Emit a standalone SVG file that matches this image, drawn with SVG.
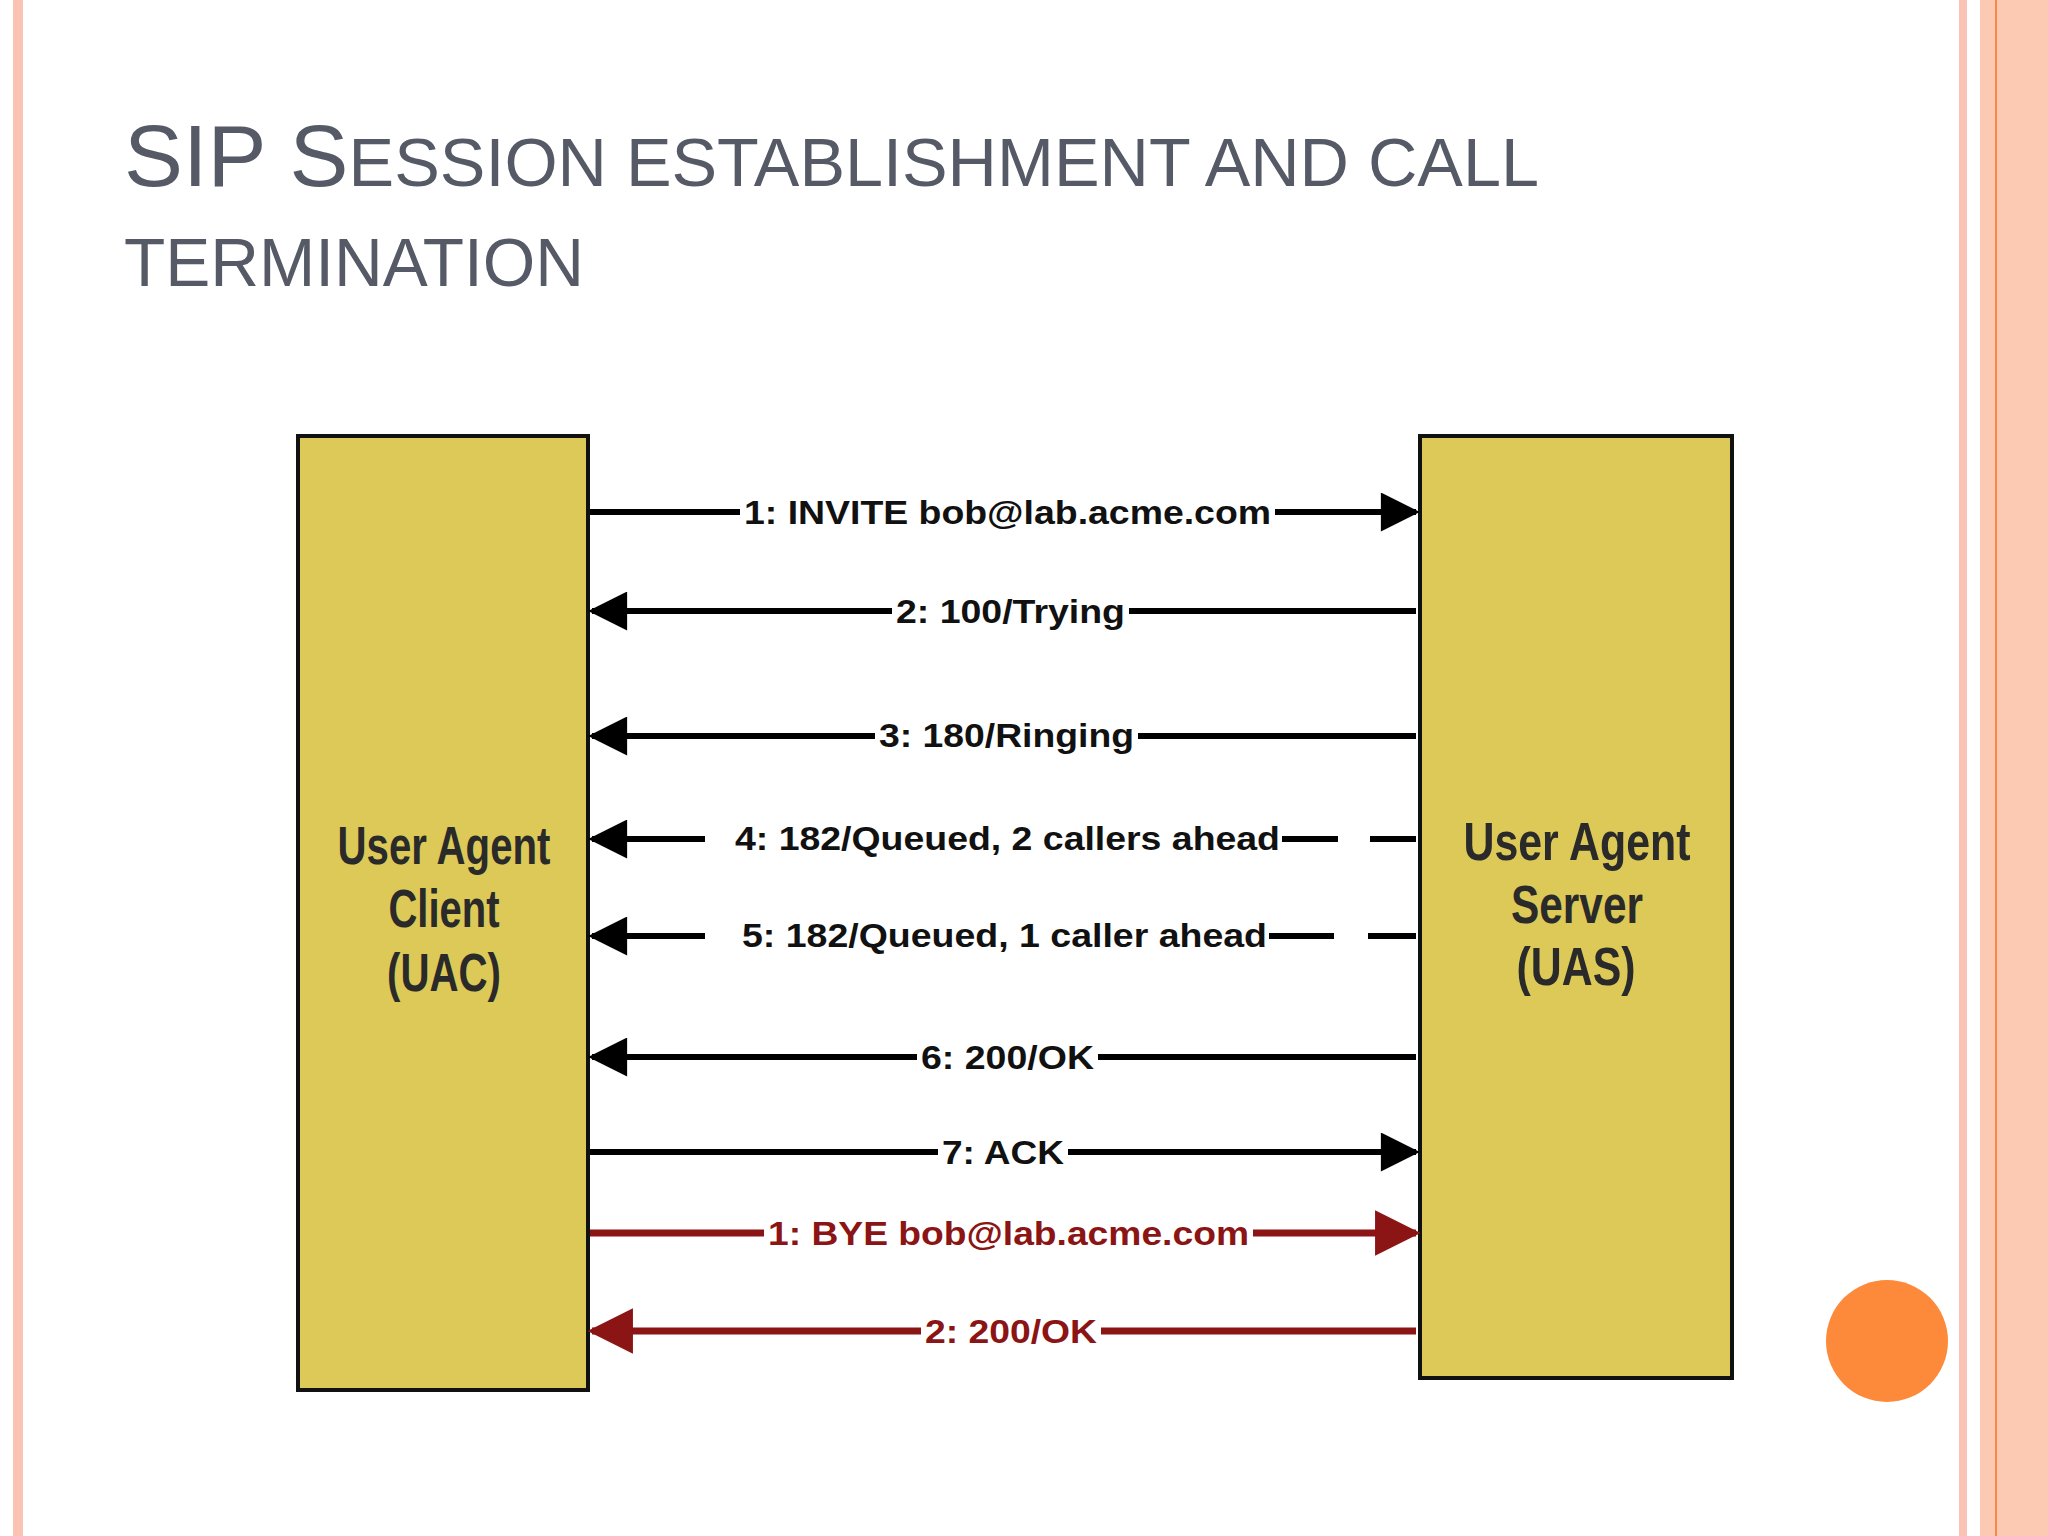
<svg xmlns="http://www.w3.org/2000/svg" width="2048" height="1536" viewBox="0 0 2048 1536">
<defs>
<marker id="ab" viewBox="0 0 10 10" refX="9" refY="5" markerWidth="7.5" markerHeight="6.5" markerUnits="strokeWidth" orient="auto-start-reverse"><path d="M0,0 L10,5 L0,10 z" fill="#000"/></marker>
<marker id="ar" viewBox="0 0 10 10" refX="9" refY="5" markerWidth="7.5" markerHeight="6.5" markerUnits="strokeWidth" orient="auto-start-reverse"><path d="M0,0 L10,5 L0,10 z" fill="#8b1414"/></marker>
</defs>
<style>
.box{fill:#dcc957;stroke:#111;stroke-width:4}
.nt{font-family:"Liberation Sans",sans-serif;font-size:54px;font-weight:bold;fill:#2a2a2a;text-anchor:middle}
.l{stroke:#000;stroke-width:6;fill:none}
.r{stroke:#8b1414;stroke-width:7}
.lt{font-family:"Liberation Sans",sans-serif;font-weight:bold;font-size:34px;fill:#111}
.rt{fill:#8b1414}
.ti{font-family:"Liberation Sans",sans-serif;fill:#555a66}
</style>
<rect width="2048" height="1536" fill="#fff"/>
<rect x="13" y="0" width="10" height="1536" fill="#fbc3b4"/>
<rect x="1959" y="0" width="8" height="1536" fill="#fbc3b4"/>
<rect x="1980" y="0" width="68" height="1536" fill="#fccab2"/>
<rect x="1995" y="0" width="2" height="1536" fill="#f58a4c"/>
<text class="ti" x="124" y="186" font-size="88" textLength="1415" lengthAdjust="spacingAndGlyphs">SIP S<tspan font-size="68">ESSION ESTABLISHMENT AND CALL</tspan></text>
<text class="ti" x="124" y="286" font-size="68" textLength="460" lengthAdjust="spacingAndGlyphs">TERMINATION</text>
<g id="uac"><rect class="box" x="298" y="436" width="290" height="954"/>
<text class="nt" x="444" y="864" textLength="213" lengthAdjust="spacingAndGlyphs">User Agent</text>
<text class="nt" x="444" y="927" textLength="111" lengthAdjust="spacingAndGlyphs">Client</text>
<text class="nt" x="444" y="991" textLength="114" lengthAdjust="spacingAndGlyphs">(UAC)</text></g>
<g id="uas"><rect class="box" x="1420" y="436" width="312" height="942"/>
<text class="nt" x="1577" y="860" textLength="227" lengthAdjust="spacingAndGlyphs">User Agent</text>
<text class="nt" x="1577" y="923" textLength="132" lengthAdjust="spacingAndGlyphs">Server</text>
<text class="nt" x="1576" y="985" textLength="119" lengthAdjust="spacingAndGlyphs">(UAS)</text></g>
<g id="connectors">
<line class="l" x1="590" y1="512" x2="740" y2="512"/><line class="l" x1="1275" y1="512" x2="1416" y2="512" marker-end="url(#ab)"/>
<text class="lt" x="744" y="524" textLength="527" lengthAdjust="spacingAndGlyphs">1: INVITE bob@lab.acme.com</text>
<line class="l" x1="1416" y1="611" x2="1129" y2="611"/><line class="l" x1="892" y1="611" x2="592" y2="611" marker-end="url(#ab)"/>
<text class="lt" x="896" y="623" textLength="229" lengthAdjust="spacingAndGlyphs">2: 100/Trying</text>
<line class="l" x1="1416" y1="736" x2="1138" y2="736"/><line class="l" x1="875" y1="736" x2="592" y2="736" marker-end="url(#ab)"/>
<text class="lt" x="879" y="747" textLength="255" lengthAdjust="spacingAndGlyphs">3: 180/Ringing</text>
<line class="l" x1="705" y1="839" x2="592" y2="839" marker-end="url(#ab)"/>
<line class="l" x1="1282" y1="839" x2="1338" y2="839"/><line class="l" x1="1370" y1="839" x2="1416" y2="839"/>
<text class="lt" x="735" y="850" textLength="545" lengthAdjust="spacingAndGlyphs">4: 182/Queued, 2 callers ahead</text>
<line class="l" x1="705" y1="936" x2="592" y2="936" marker-end="url(#ab)"/>
<line class="l" x1="1269" y1="936" x2="1334" y2="936"/><line class="l" x1="1368" y1="936" x2="1416" y2="936"/>
<text class="lt" x="742" y="947" textLength="525" lengthAdjust="spacingAndGlyphs">5: 182/Queued, 1 caller ahead</text>
<line class="l" x1="1416" y1="1057" x2="1098" y2="1057"/><line class="l" x1="917" y1="1057" x2="592" y2="1057" marker-end="url(#ab)"/>
<text class="lt" x="921" y="1069" textLength="173" lengthAdjust="spacingAndGlyphs">6: 200/OK</text>
<line class="l" x1="590" y1="1152" x2="938" y2="1152"/><line class="l" x1="1068" y1="1152" x2="1416" y2="1152" marker-end="url(#ab)"/>
<text class="lt" x="942" y="1164" textLength="122" lengthAdjust="spacingAndGlyphs">7: ACK</text>
<line class="l r" x1="590" y1="1233" x2="764" y2="1233"/><line class="l r" x1="1253" y1="1233" x2="1416" y2="1233" marker-end="url(#ar)"/>
<text class="lt rt" x="768" y="1245" textLength="481" lengthAdjust="spacingAndGlyphs">1: BYE bob@lab.acme.com</text>
<line class="l r" x1="1416" y1="1331" x2="1101" y2="1331"/><line class="l r" x1="921" y1="1331" x2="592" y2="1331" marker-end="url(#ar)"/>
<text class="lt rt" x="925" y="1343" textLength="172" lengthAdjust="spacingAndGlyphs">2: 200/OK</text>
</g>
<circle cx="1887" cy="1341" r="61" fill="#fd8a3a"/>
</svg>
